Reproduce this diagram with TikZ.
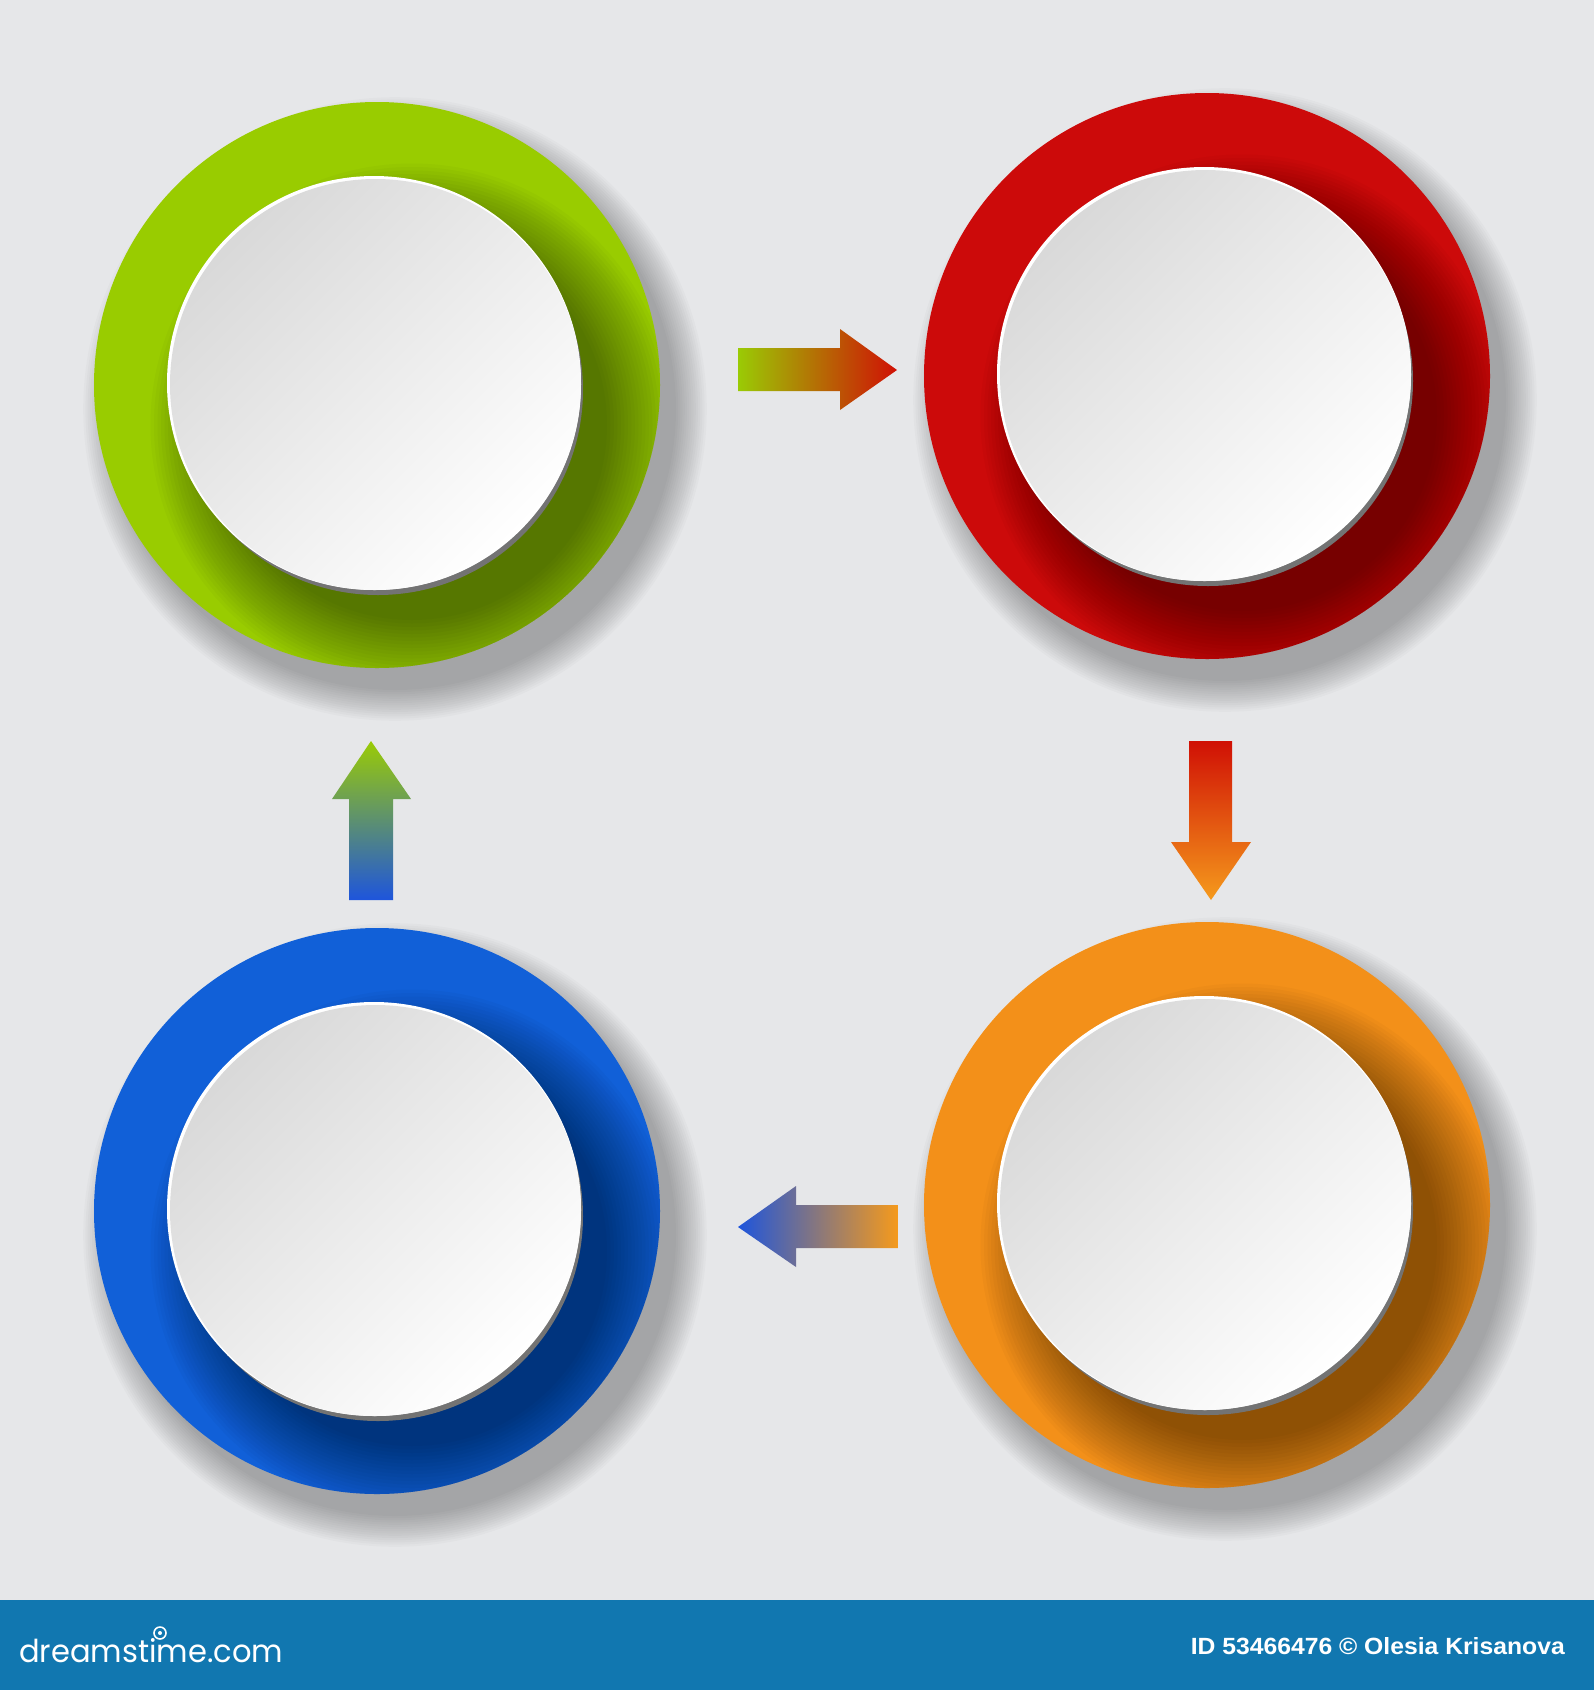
\documentclass[tikz,border=0pt]{standalone}
\usepackage{fontspec}
\usepackage{graphicx}
\newfontfamily\markfont{Poppins}
\newfontfamily\idfont{Liberation Sans}
\definecolor{bgcol}{HTML}{E6E7E9}
\definecolor{barcol}{HTML}{1177B0}
\definecolor{rgreen}{HTML}{99CC00}
\definecolor{rred}{HTML}{CC0A0A}
\definecolor{rorange}{HTML}{F39019}
\definecolor{rblue}{HTML}{1160D8}
\definecolor{agreen}{HTML}{9ACB05}
\definecolor{ared}{HTML}{D01005}
\definecolor{aorange}{HTML}{F59A1C}
\definecolor{ablue}{HTML}{1E55DC}
\newcommand\ringunit[4]{%
  \begin{scope}[shift={(#2,-#3)}]
    \coordinate (#1) at (0,0);
    % soft shadow of the ring on the background
    \foreach \i in {0,...,14}
      \fill[black,opacity=0.02] (18,-24) circle[radius=281pt+2.2pt*\i];
    % ring
    \fill[#4] (0,0) circle[radius=283pt];
    % shadow of the disc on the ring
    \begin{scope}
      \clip (0,0) circle[radius=283pt];
      \foreach \i in {0,...,19}
        \fill[black,opacity=0.022] (35,-40) circle[radius=195pt+3.5pt*\i];
    \end{scope}
    % disc edge
    \fill[black!55] (1,-5) circle[radius=205pt];
    \fill[white] (-3,2) circle[radius=207pt];
    \shade[top color=black!15, middle color=black!1, bottom color=white, shading angle=45]
      (-1.5,0.5) circle[radius=205.5pt];
  \end{scope}}
\begin{document}
\begin{tikzpicture}[x=1pt,y=1pt]
\useasboundingbox (0,0) rectangle (1594,-1690);
\fill[bgcol] (0,0) rectangle (1594,-1600);
\fill[barcol] (0,-1600) rectangle (1594,-1690);

\ringunit{green}{377}{385}{rgreen}
\ringunit{red}{1207}{376}{rred}
\ringunit{orange}{1207}{1205}{rorange}
\ringunit{blue}{377}{1211}{rblue}

% arrows
\shade[left color=agreen, right color=ared]
  (738,-348) -- (840,-348) -- (840,-329) -- (897,-370) -- (840,-410) -- (840,-391) -- (738,-391) -- cycle;
\shade[top color=ared, bottom color=aorange]
  (1189,-741) -- (1232,-741) -- (1232,-842) -- (1251,-842) -- (1211,-900) -- (1171,-842) -- (1189,-842) -- cycle;
\shade[left color=ablue, right color=aorange]
  (898,-1205) -- (796,-1205) -- (796,-1186) -- (738,-1227) -- (796,-1267) -- (796,-1248) -- (898,-1248) -- cycle;
\shade[top color=agreen, bottom color=ablue]
  (349,-900) -- (349,-799) -- (332,-799) -- (371,-741) -- (411,-799) -- (393,-799) -- (393,-900) -- cycle;

% bottom bar texts
\node[anchor=base west, inner sep=0pt, text=white] (brand) at (19,-1662)
  {\resizebox{264pt}{24pt}{\markfont dreamstime.com}};
\draw[white, line width=1.6pt] (160,-1633) circle[radius=6pt];
\fill[white] (160,-1633) circle[radius=2pt];
\node[anchor=base east, inner sep=0pt, text=white] (credit) at (1565,-1654)
  {\resizebox{374pt}{17pt}{\idfont\bfseries ID 53466476 © Olesia Krisanova}};
\end{tikzpicture}
\end{document}
